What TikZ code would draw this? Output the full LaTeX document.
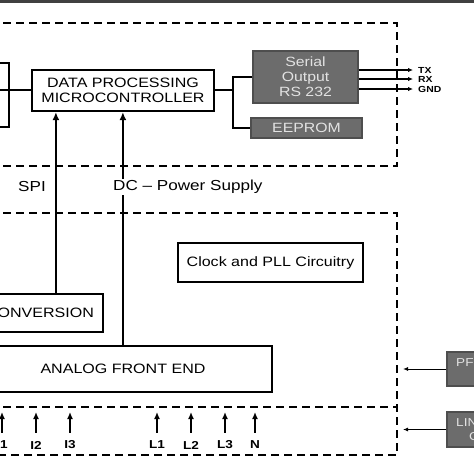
\documentclass[tikz,border=0pt]{standalone}
\usepackage{fontspec}
\setmainfont[FakeStretch=1.18]{Liberation Sans}
\usetikzlibrary{arrows.meta,calc}
\definecolor{boxgray}{HTML}{6C6C6C}
\definecolor{boxedge}{HTML}{4E4E4E}
\definecolor{boxtext}{HTML}{E2E2E2}
\tikzset{
  blk/.style={draw,line width=2.2pt,inner sep=0pt,align=center,font=\fontsize{13.6}{15}\selectfont},
  gblk/.style={draw=boxedge,fill=boxgray,line width=1.2pt,inner sep=0pt,align=center,text=boxtext,font=\fontsize{13.4}{15}\selectfont},
  zone/.style={draw,line width=2.6pt,dash pattern=on 8pt off 5pt},
  sig/.style={line width=2.2pt,-{Latex[length=8pt,width=7pt]}},
  wire/.style={line width=1.4pt},
  outarr/.style={line width=1.4pt,-{Latex[length=5pt,width=4.5pt]}},
  thinarr/.style={line width=1pt,-{Latex[length=5pt,width=4pt]}},
  inlab/.style={inner sep=0pt,font=\fontsize{11.5}{12}\selectfont\bfseries},
  siglab/.style={inner sep=1pt,anchor=west,fill=white,font=\fontsize{14.5}{16}\selectfont},
}
\begin{document}
\begin{tikzpicture}[x=1pt,y=-1pt]
  \useasboundingbox (0,0) rectangle (474,474);
  \clip (0,0) rectangle (474,474);
  \fill[black!75] (0,0) rectangle (474,2.5);

  % dashed zones
  \draw[zone] (-10,23) -- (397,23) -- (397,166) -- (-10,166);
  \draw[zone] (-10,213) -- (397,213) -- (397,455) -- (-10,455);
  \draw[zone] (-10,407) -- (397,407);

  % top zone
  \node[blk,minimum width=49pt,minimum height=64pt] (leftblk) at (-15.5,95) {};
  \node[blk,minimum width=182pt,minimum height=41pt] (micro) at (123,90.5) {DATA PROCESSING\\MICROCONTROLLER};
  \node[gblk,minimum width=105pt,minimum height=52pt] (serial) at (305.5,77) {Serial\\Output\\RS 232};
  \node[gblk,minimum width=111pt,minimum height=20pt] (eeprom) at (306.5,128) {EEPROM};
  \coordinate (lin) at (-5,90);
  \coordinate (jn) at (233,90);
  \draw[wire] (lin) -- (lin -| micro.west);
  \draw[wire] (micro.east |- jn) -- (jn);
  \draw[wire] (serial.west) -| (jn) |- (eeprom.west);

  \node[inner sep=0pt,anchor=west,font=\fontsize{8.8}{9}\selectfont\bfseries] (tx) at (418,70) {TX};
  \node[inner sep=0pt,anchor=west,font=\fontsize{8.8}{9}\selectfont\bfseries] (rx) at (418,79) {RX};
  \node[inner sep=0pt,anchor=west,font=\fontsize{8.8}{9}\selectfont\bfseries] (gnd) at (418,89) {GND};
  \foreach \s in {tx,rx,gnd}
    \draw[outarr] (serial.east |- \s.west) -- ([xshift=-5pt]\s.west);

  % middle zone
  \node[blk,minimum width=185pt,minimum height=39pt] (clock) at (270.5,262.5) {Clock and PLL Circuitry};
  \node[blk,minimum width=126pt,minimum height=38pt] (conv) at (40,313) {CONVERSION};
  \node[blk,minimum width=298pt,minimum height=46pt] (afe) at (123,369) {ANALOG FRONT END};

  \path (micro.south west) ++(25,0) coordinate (spitop);
  \path (micro.south west) ++(92,0) coordinate (dctop);
  \draw[sig] (spitop |- conv.north) -- (spitop);
  \draw[sig] (dctop |- afe.north) -- (dctop);
  \node[siglab] (spi) at (17,187) {SPI};
  \node[siglab] (dc) at (112,187) {DC -- Power Supply};

  % inputs
  \foreach \x/\t in {2/I1,36/I2,70/I3,157/L1,191/L2,225/L3,255/N}{
    \node[inlab] (in\t) at (\x,445) {\t};
    \coordinate (tip\t) at (\x,412);
    \draw[sig,line width=2.2pt,-{Latex[length=7pt,width=6pt]},shorten <=8pt] (in\t.north) -- (tip\t);
  }

  % right side blocks
  \node[gblk,minimum width=74pt,minimum height=34pt] (pf) at (484,369) {};
  \node[gblk,minimum width=74pt,minimum height=35pt] (line) at (484,429.5) {};
  \node[inner sep=0pt,anchor=west,text=boxtext,font=\fontsize{11.5}{12}\selectfont] (pft) at (456,363) {PF};
  \node[inner sep=0pt,anchor=west,text=boxtext,font=\fontsize{11.5}{12}\selectfont] (lint) at (456,423) {LINE};
  \node[inner sep=0pt,anchor=west,text=boxtext,font=\fontsize{11.5}{12}\selectfont] (lint2) at (469,437) {C};
  \coordinate (pfin) at (403,369);
  \coordinate (linein) at (403,429.5);
  \draw[thinarr] (pf.west) -- (pfin);
  \draw[thinarr] (line.west) -- (linein);
\end{tikzpicture}
\end{document}
